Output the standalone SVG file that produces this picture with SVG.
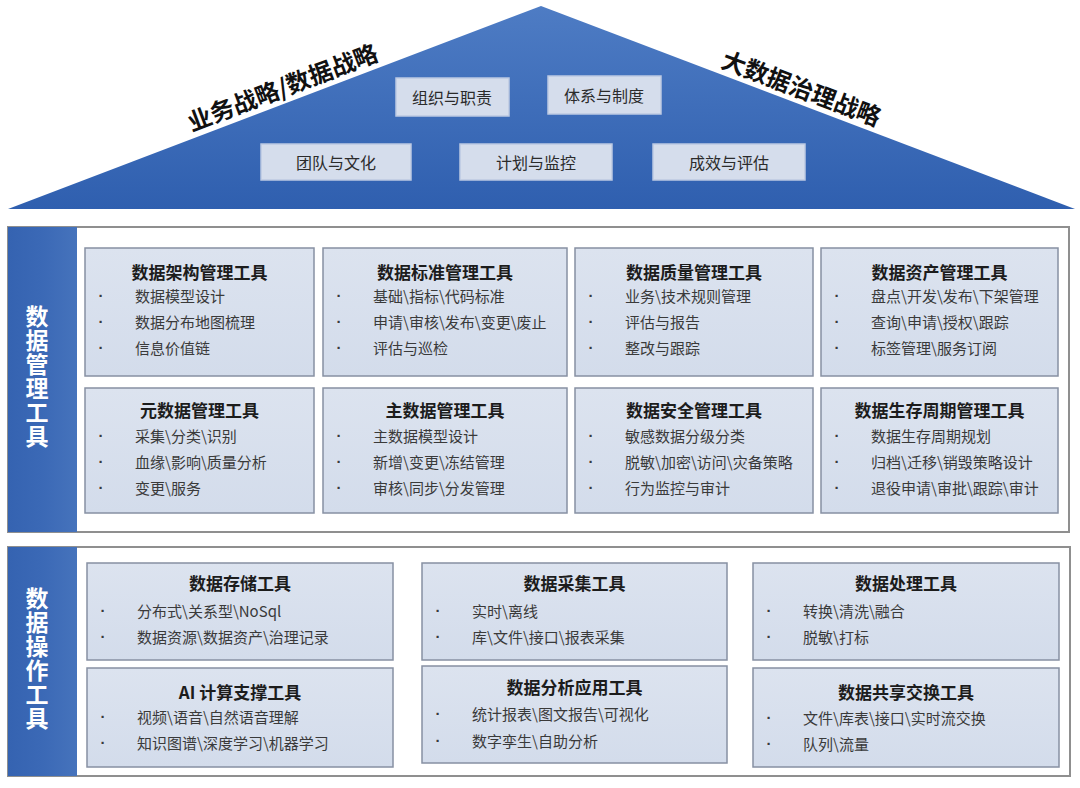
<svg xmlns="http://www.w3.org/2000/svg" width="1080" height="788" viewBox="0 0 1080 788">
<defs>
<linearGradient id="roofGrad" x1="0" y1="0" x2="0" y2="1">
<stop offset="0" stop-color="#4E7CC4"/>
<stop offset="1" stop-color="#2F5FAF"/>
</linearGradient>
<linearGradient id="barGrad" x1="0" y1="0" x2="1" y2="0">
<stop offset="0" stop-color="#3563B1"/>
<stop offset="0.5" stop-color="#3B69B6"/>
<stop offset="1" stop-color="#4673BC"/>
</linearGradient>
<linearGradient id="boxGrad" x1="0" y1="0" x2="0" y2="1">
<stop offset="0" stop-color="#DCE3EF"/>
<stop offset="1" stop-color="#D3DCEB"/>
</linearGradient>
<style>
text { font-family: 'Noto Sans CJK SC', 'Noto Sans', sans-serif; dominant-baseline: central; }
.roof { fill: url(#roofGrad); }
.roofbox { fill: #D5DDEC; stroke: #BCC9E2; stroke-width: 1.5; }
.roofTxt { font-size: 16px; fill: #2B2B2B; text-anchor: middle; }
.strategy { font-size: 24px; font-weight: bold; fill: #111; text-anchor: middle; }
.sec { fill: #FFFFFF; stroke: #8F8F8F; stroke-width: 2; }
.bar { fill: url(#barGrad); }
.barTxt { font-size: 23px; font-weight: bold; fill: #FFFFFF; text-anchor: middle; writing-mode: vertical-rl; letter-spacing: 1px; }
.box { fill: url(#boxGrad); stroke: #8790A3; stroke-width: 1.5; }
.title { font-size: 17px; font-weight: bold; fill: #1C1C1C; text-anchor: middle; }
.item { font-size: 15px; fill: #3A3A3A; }
.dot { font-family: 'Liberation Sans', sans-serif; font-size: 15px; font-weight: bold; fill: #3A3A3A; text-anchor: middle; }
</style>
</defs>
<rect width="1080" height="788" fill="#FFFFFF"/>

<g id="roof">
<polygon class="roof" points="8,209 541,6 1075,209"/>
<text class="strategy" transform="translate(282,86) rotate(-20.85)">业务战略/数据战略</text>
<text class="strategy" transform="translate(802,87) rotate(20.8)">大数据治理战略</text>
</g>
<g id="roof-org">
<rect class="roofbox" x="396" y="78" width="113" height="38"/>
<text class="roofTxt" x="452" y="97">组织与职责</text>
</g>
<g id="roof-system">
<rect class="roofbox" x="548" y="76" width="113" height="38"/>
<text class="roofTxt" x="604" y="95">体系与制度</text>
</g>
<g id="roof-team">
<rect class="roofbox" x="261" y="144" width="150" height="36"/>
<text class="roofTxt" x="336" y="162">团队与文化</text>
</g>
<g id="roof-plan">
<rect class="roofbox" x="460" y="144" width="152" height="36"/>
<text class="roofTxt" x="536" y="162">计划与监控</text>
</g>
<g id="roof-effect">
<rect class="roofbox" x="653" y="144" width="152" height="36"/>
<text class="roofTxt" x="729" y="162">成效与评估</text>
</g>

<g id="mgmt-section">
<rect class="sec" x="8" y="227" width="1061" height="305"/>
<rect class="bar" x="8" y="227" width="69" height="305"/>
<text class="barTxt" x="37" y="377">数据管理工具</text>
</g>

<g id="m-arch">
<rect class="box" x="85" y="248" width="229" height="128"/>
<text class="title" x="199.5" y="271">数据架构管理工具</text>
<text class="dot" x="101" y="295">·</text><text class="item" x="135" y="295">数据模型设计</text>
<text class="dot" x="101" y="321">·</text><text class="item" x="135" y="321">数据分布地图梳理</text>
<text class="dot" x="101" y="347">·</text><text class="item" x="135" y="347">信息价值链</text>
</g>
<g id="m-std">
<rect class="box" x="323" y="248" width="244" height="128"/>
<text class="title" x="445" y="271">数据标准管理工具</text>
<text class="dot" x="339" y="295">·</text><text class="item" x="373" y="295">基础\指标\代码标准</text>
<text class="dot" x="339" y="321">·</text><text class="item" x="373" y="321">申请\审核\发布\变更\废止</text>
<text class="dot" x="339" y="347">·</text><text class="item" x="373" y="347">评估与巡检</text>
</g>
<g id="m-quality">
<rect class="box" x="575" y="248" width="238" height="128"/>
<text class="title" x="694" y="271">数据质量管理工具</text>
<text class="dot" x="591" y="295">·</text><text class="item" x="625" y="295">业务\技术规则管理</text>
<text class="dot" x="591" y="321">·</text><text class="item" x="625" y="321">评估与报告</text>
<text class="dot" x="591" y="347">·</text><text class="item" x="625" y="347">整改与跟踪</text>
</g>
<g id="m-asset">
<rect class="box" x="821" y="248" width="237" height="128"/>
<text class="title" x="939.5" y="271">数据资产管理工具</text>
<text class="dot" x="837" y="295">·</text><text class="item" x="871" y="295">盘点\开发\发布\下架管理</text>
<text class="dot" x="837" y="321">·</text><text class="item" x="871" y="321">查询\申请\授权\跟踪</text>
<text class="dot" x="837" y="347">·</text><text class="item" x="871" y="347">标签管理\服务订阅</text>
</g>
<g id="m-meta">
<rect class="box" x="85" y="388" width="229" height="125"/>
<text class="title" x="199.5" y="409">元数据管理工具</text>
<text class="dot" x="101" y="435">·</text><text class="item" x="135" y="435">采集\分类\识别</text>
<text class="dot" x="101" y="461">·</text><text class="item" x="135" y="461">血缘\影响\质量分析</text>
<text class="dot" x="101" y="487">·</text><text class="item" x="135" y="487">变更\服务</text>
</g>
<g id="m-master">
<rect class="box" x="323" y="388" width="244" height="125"/>
<text class="title" x="445" y="409">主数据管理工具</text>
<text class="dot" x="339" y="435">·</text><text class="item" x="373" y="435">主数据模型设计</text>
<text class="dot" x="339" y="461">·</text><text class="item" x="373" y="461">新增\变更\冻结管理</text>
<text class="dot" x="339" y="487">·</text><text class="item" x="373" y="487">审核\同步\分发管理</text>
</g>
<g id="m-security">
<rect class="box" x="575" y="388" width="238" height="125"/>
<text class="title" x="694" y="409">数据安全管理工具</text>
<text class="dot" x="591" y="435">·</text><text class="item" x="625" y="435">敏感数据分级分类</text>
<text class="dot" x="591" y="461">·</text><text class="item" x="625" y="461">脱敏\加密\访问\灾备策略</text>
<text class="dot" x="591" y="487">·</text><text class="item" x="625" y="487">行为监控与审计</text>
</g>
<g id="m-lifecycle">
<rect class="box" x="821" y="388" width="237" height="125"/>
<text class="title" x="939.5" y="409">数据生存周期管理工具</text>
<text class="dot" x="837" y="435">·</text><text class="item" x="871" y="435">数据生存周期规划</text>
<text class="dot" x="837" y="461">·</text><text class="item" x="871" y="461">归档\迁移\销毁策略设计</text>
<text class="dot" x="837" y="487">·</text><text class="item" x="871" y="487">退役申请\审批\跟踪\审计</text>
</g>

<g id="ops-section">
<rect class="sec" x="8" y="547" width="1062" height="229"/>
<rect class="bar" x="8" y="547" width="69" height="229"/>
<text class="barTxt" x="37" y="659">数据操作工具</text>
</g>

<g id="o-storage">
<rect class="box" x="87" y="563" width="306" height="97"/>
<text class="title" x="240" y="582">数据存储工具</text>
<text class="dot" x="103" y="610">·</text><text class="item" x="137" y="610">分布式\关系型\NoSql</text>
<text class="dot" x="103" y="636">·</text><text class="item" x="137" y="636">数据资源\数据资产\治理记录</text>
</g>
<g id="o-ai">
<rect class="box" x="87" y="668" width="306" height="99"/>
<text class="title" x="240" y="691">AI 计算支撑工具</text>
<text class="dot" x="103" y="716">·</text><text class="item" x="137" y="716">视频\语音\自然语音理解</text>
<text class="dot" x="103" y="742">·</text><text class="item" x="137" y="742">知识图谱\深度学习\机器学习</text>
</g>
<g id="o-collect">
<rect class="box" x="422" y="563" width="305" height="97"/>
<text class="title" x="574.5" y="582">数据采集工具</text>
<text class="dot" x="438" y="610">·</text><text class="item" x="472" y="610">实时\离线</text>
<text class="dot" x="438" y="636">·</text><text class="item" x="472" y="636">库\文件\接口\报表采集</text>
</g>
<g id="o-analysis">
<rect class="box" x="422" y="666" width="305" height="97"/>
<text class="title" x="574.5" y="686">数据分析应用工具</text>
<text class="dot" x="438" y="713">·</text><text class="item" x="472" y="713">统计报表\图文报告\可视化</text>
<text class="dot" x="438" y="740">·</text><text class="item" x="472" y="740">数字孪生\自助分析</text>
</g>
<g id="o-process">
<rect class="box" x="753" y="563" width="306" height="97"/>
<text class="title" x="906" y="582">数据处理工具</text>
<text class="dot" x="769" y="610">·</text><text class="item" x="803" y="610">转换\清洗\融合</text>
<text class="dot" x="769" y="636">·</text><text class="item" x="803" y="636">脱敏\打标</text>
</g>
<g id="o-share">
<rect class="box" x="753" y="668" width="306" height="99"/>
<text class="title" x="906" y="691">数据共享交换工具</text>
<text class="dot" x="769" y="717">·</text><text class="item" x="803" y="717">文件\库表\接口\实时流交换</text>
<text class="dot" x="769" y="743">·</text><text class="item" x="803" y="743">队列\流量</text>
</g>

<g id="connectors"/>
</svg>
